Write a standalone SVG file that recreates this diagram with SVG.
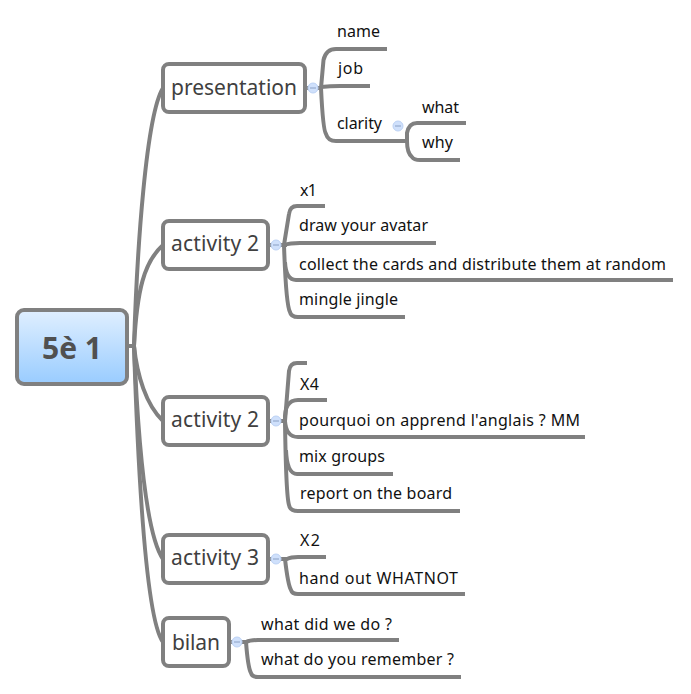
<svg xmlns="http://www.w3.org/2000/svg" width="691" height="694" viewBox="0 0 691 694">
<style>
text{font-family:"Noto Sans","Open Sans",sans-serif}
.n{fill:#fff;stroke:#808080;stroke-width:4}
.t{font-size:21px;fill:#404040}
.l{font-size:16px;fill:#111}
.c{fill:none;stroke:#808080;stroke-width:4}
.d{fill:#cfe0fb;stroke:#bcd2f5;stroke-width:1}
.m{stroke:#8aa0c4;stroke-width:1}
</style>
<defs>
<linearGradient id="g" x1="0" y1="0" x2="0" y2="1"><stop offset="0" stop-color="#e0efff"/><stop offset="1" stop-color="#99ccff"/></linearGradient>
<g id="dot"><circle r="5" class="d"/><path d="M-3 0H3" class="m"/></g>
</defs>
<g id="connectors">
<path class="c" d="M128 346H136"/>
<path class="c" d="M134 346C137 250 146 115 163 88"/>
<path class="c" d="M134 346C137 290 144 262 163 245"/>
<path class="c" d="M134 346C137 375 146 405 163 421"/>
<path class="c" d="M134 346C138 440 146 535 163 559"/>
<path class="c" d="M134 346C138 470 146 620 163 642"/>
<path class="c" d="M305 88H322M387 49H336Q326 49 323.500 60L321 88Q323 130 326 134Q328 141 336 141H405"/>
<path class="c" d="M321 87Q330 86 340 86H370"/>
<path class="c" d="M405 141H407M466 123H417Q409 123 407 133V141Q407 153 412 157Q414 160 420 160H460"/>
<path class="c" d="M268 245H287M325 206H297Q290 206 289 214L284 245Q286 305 290 312Q291 317 298 317H405"/>
<path class="c" d="M284 245Q290 243 300 243H436"/>
<path class="c" d="M285 262Q286 280 296 280H673"/>
<path class="c" d="M268 421H287M307 363H297Q290 363 289 371L285 421Q286 495 289 505Q290 511 298 511H460"/>
<path class="c" d="M285 421Q284 400 298 400H327"/>
<path class="c" d="M285 421Q286 437 298 437H585"/>
<path class="c" d="M286 450Q287 474 297 474H393"/>
<path class="c" d="M268 559H287Q291 557 298 557H326"/>
<path class="c" d="M285 559Q288 585 291 590Q292 594 298 594H465"/>
<path class="c" d="M229 642H246Q250 640 258 640H399"/>
<path class="c" d="M246 642Q248 668 251 673Q252 677 258 677H461"/>
</g>
<g id="root"><rect x="17" y="310" width="110" height="74" rx="7" fill="url(#g)" stroke="#808080" stroke-width="4"/><text x="72" y="359" text-anchor="middle" font-size="30" font-weight="700" fill="#505050">5è 1</text></g>
<g id="presentation"><rect class="n" x="163" y="64" width="142" height="48" rx="6"/><text class="t" x="171" y="95" textLength="126">presentation</text><use href="#dot" x="313" y="88"/></g>
<g id="activity2a"><rect class="n" x="163" y="221" width="105" height="48" rx="6"/><text class="t" x="171" y="251" textLength="88">activity 2</text><use href="#dot" x="276" y="245"/></g>
<g id="activity2b"><rect class="n" x="163" y="397" width="105" height="48" rx="6"/><text class="t" x="171" y="427" textLength="88">activity 2</text><use href="#dot" x="276" y="421"/></g>
<g id="activity3"><rect class="n" x="163" y="535" width="105" height="48" rx="6"/><text class="t" x="171" y="565" textLength="88">activity 3</text><use href="#dot" x="276" y="559"/></g>
<g id="bilan"><rect class="n" x="163" y="618" width="66" height="48" rx="6"/><text class="t" x="172" y="650" textLength="48">bilan</text><use href="#dot" x="237" y="642"/></g>
<g id="leaf-name"><text class="l" x="337" y="37" textLength="43">name</text></g>
<g id="leaf-job"><text class="l" x="338" y="74" textLength="25">job</text></g>
<g id="leaf-clarity"><text class="l" x="337" y="129" textLength="45">clarity</text><use href="#dot" x="398" y="126"/></g>
<g id="leaf-what"><text class="l" x="422" y="113" textLength="37">what</text></g>
<g id="leaf-why"><text class="l" x="422" y="148" textLength="31">why</text></g>
<g id="leaf-x1"><text class="l" x="300" y="196" textLength="17">x1</text></g>
<g id="leaf-draw"><text class="l" x="299" y="231" textLength="129">draw your avatar</text></g>
<g id="leaf-collect"><text class="l" x="299" y="270" textLength="367">collect the cards and distribute them at random</text></g>
<g id="leaf-mingle"><text class="l" x="299" y="305" textLength="99">mingle jingle</text></g>
<g id="leaf-x4"><text class="l" x="300" y="390" textLength="19">X4</text></g>
<g id="leaf-pourquoi"><text class="l" x="299" y="426" textLength="281">pourquoi on apprend l'anglais ? MM</text></g>
<g id="leaf-mix"><text class="l" x="299" y="462" textLength="86">mix groups</text></g>
<g id="leaf-report"><text class="l" x="300" y="499" textLength="152">report on the board</text></g>
<g id="leaf-x2"><text class="l" x="300" y="546" textLength="20">X2</text></g>
<g id="leaf-hand"><text class="l" x="299" y="584" textLength="159">hand out WHATNOT</text></g>
<g id="leaf-whatdid"><text class="l" x="261" y="630" textLength="131">what did we do ?</text></g>
<g id="leaf-remember"><text class="l" x="261" y="665" textLength="193">what do you remember ?</text></g>
</svg>
